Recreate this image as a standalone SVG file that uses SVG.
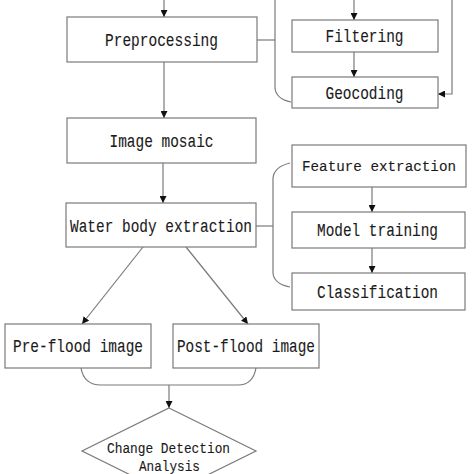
<svg xmlns="http://www.w3.org/2000/svg" width="474" height="474" viewBox="0 0 474 474">
<style>
.box{fill:#fff;stroke:#7a7a7a;stroke-width:1.2}
.ln{fill:none;stroke:#7a7a7a;stroke-width:1.2}
.t{font-family:"Liberation Mono",monospace;font-size:17.5px;fill:#1a1a1a;stroke:#1a1a1a;stroke-width:0.12;text-anchor:middle}
.s{font-size:14px}
.m{font-size:15.3px}
</style>
<defs>
<marker id="ah" viewBox="0 0 10 10" refX="10" refY="5" markerWidth="7" markerHeight="7" markerUnits="userSpaceOnUse" orient="auto">
<path d="M0,0 L10,5 L0,10 z" fill="#111"/>
</marker>
</defs>
<rect width="474" height="474" fill="#fff"/>
<g id="connectors">
<line class="ln" x1="164" y1="0" x2="164" y2="17" marker-end="url(#ah)"/>
<line class="ln" x1="164" y1="62" x2="164" y2="118" marker-end="url(#ah)"/>
<line class="ln" x1="354" y1="0" x2="354" y2="20" marker-end="url(#ah)"/>
<line class="ln" x1="354" y1="52" x2="354" y2="77" marker-end="url(#ah)"/>
<path class="ln" d="M452,0 V94 H438" marker-end="url(#ah)"/>
<path class="ln" d="M257,40 H275"/>
<path class="ln" d="M275,0 V88 Q276,99 291,102"/>
<line class="ln" x1="163" y1="163" x2="163" y2="203" marker-end="url(#ah)"/>
<line class="ln" x1="372" y1="187" x2="372" y2="212" marker-end="url(#ah)"/>
<line class="ln" x1="372" y1="248" x2="372" y2="273" marker-end="url(#ah)"/>
<path class="ln" d="M256,226 H273"/>
<path class="ln" d="M290,163 Q274,167 273,178 V273 Q274,284 290,287"/>
<line class="ln" x1="143" y1="247" x2="82" y2="324" marker-end="url(#ah)"/>
<line class="ln" x1="186" y1="247" x2="248" y2="324" marker-end="url(#ah)"/>
<path class="ln" d="M81,368 Q84,385 101,385 H238 Q253,385 256,368"/>
<line class="ln" x1="169" y1="385" x2="169" y2="408" marker-end="url(#ah)"/>
</g>
<g id="preprocessing"><rect class="box" x="67" y="17" width="190" height="45"/><text class="t" x="161.5" y="45.5" textLength="113" lengthAdjust="spacingAndGlyphs">Preprocessing</text></g>
<g id="filtering"><rect class="box" x="292" y="20" width="146" height="32"/><text class="t" x="364.5" y="42" textLength="78" lengthAdjust="spacingAndGlyphs">Filtering</text></g>
<g id="geocoding"><rect class="box" x="292" y="77" width="146" height="31"/><text class="t" x="364.5" y="98.5" textLength="78" lengthAdjust="spacingAndGlyphs">Geocoding</text></g>
<g id="image-mosaic"><rect class="box" x="67" y="118" width="189" height="45"/><text class="t" x="161.5" y="146.5" textLength="104" lengthAdjust="spacingAndGlyphs">Image mosaic</text></g>
<g id="water-body-extraction"><rect class="box" x="66" y="203" width="190" height="44"/><text class="t" x="161" y="231.5" textLength="182" lengthAdjust="spacingAndGlyphs">Water body extraction</text></g>
<g id="feature-extraction"><rect class="box" x="292" y="145" width="174" height="42"/><text class="t m" x="379" y="171" textLength="154" lengthAdjust="spacingAndGlyphs">Feature extraction</text></g>
<g id="model-training"><rect class="box" x="292" y="212" width="173" height="36"/><text class="t" x="377.5" y="236" textLength="121" lengthAdjust="spacingAndGlyphs">Model training</text></g>
<g id="classification"><rect class="box" x="292" y="273" width="173" height="37"/><text class="t" x="377.5" y="298" textLength="121" lengthAdjust="spacingAndGlyphs">Classification</text></g>
<g id="pre-flood"><rect class="box" x="5" y="324" width="146" height="44"/><text class="t" x="78" y="352" textLength="130" lengthAdjust="spacingAndGlyphs">Pre-flood image</text></g>
<g id="post-flood"><rect class="box" x="173" y="324" width="146" height="44"/><text class="t" x="246" y="352" textLength="138" lengthAdjust="spacingAndGlyphs">Post-flood image</text></g>
<g id="change-detection"><polygon class="box" points="169,408 256,451 169,494 82,451"/><text class="t s" x="168.5" y="453" textLength="123" lengthAdjust="spacingAndGlyphs">Change Detection</text><text class="t s" x="169.5" y="471" textLength="61" lengthAdjust="spacingAndGlyphs">Analysis</text></g>
</svg>
